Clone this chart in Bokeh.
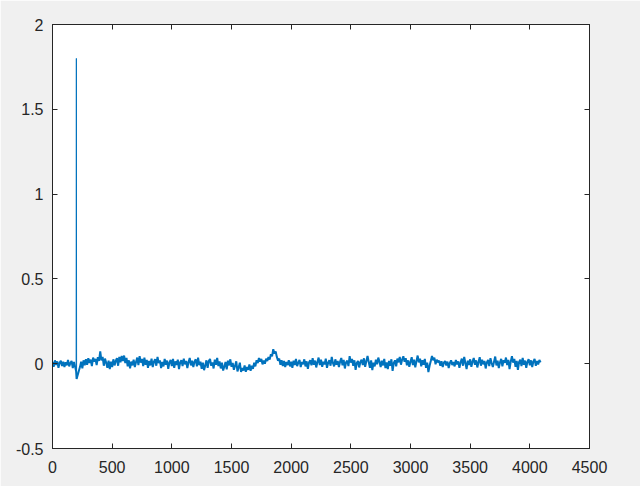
from bokeh.plotting import figure
from bokeh.models import Range1d, LinearAxis, FixedTicker, CustomJSTickFormatter
from bokeh.embed import file_html
from bokeh.resources import INLINE

# sample positions of the read-off values: every 10 samples, denser at the spike
sample_index = list(range(0, 200, 10)) + [198, 200, 202] + list(range(210, 4100, 10))

signal = [
    0.010, -0.018, 0.020, -0.008, 0.014, -0.024, 0.006, 0.018, -0.014, 0.012, -0.020, 0.008, -0.010, 0.022, -0.016, 0.004, 0.016, -0.026, 0.010, -0.020,
    -0.045, 1.800, -0.090,
    -0.070, -0.045, -0.020, 0.012, -0.028, 0.020, -0.010, 0.026, -0.006, 0.032, 0.004, 0.024, -0.014, 0.036, 0.012, 0.028, -0.008, 0.038, 0.016,
    0.072, 0.020, 0.040, -0.012, 0.030, 0.006, -0.024, 0.018, -0.032, 0.012, -0.020, 0.026, -0.010, 0.016, 0.032, -0.012, 0.040, 0.008, 0.046, 0.016,
    0.048, 0.004, 0.034, -0.016, 0.020, -0.028, 0.012, -0.010, 0.024, -0.020, 0.010, 0.036, -0.008, 0.044, 0.006, 0.028, -0.014, 0.036, -0.006, 0.022,
    -0.024, 0.016, -0.010, 0.030, -0.020, 0.012, 0.026, -0.012, 0.040, 0.004, 0.020, -0.026, 0.010, -0.016, 0.028, -0.006, 0.018, -0.030, 0.008, 0.022,
    -0.014, 0.028, -0.024, 0.014, -0.008, 0.024, -0.032, 0.008, 0.020, -0.014, 0.030, -0.004, 0.016, -0.026, 0.010, 0.034, -0.010, 0.018, -0.020, 0.012,
    0.026, -0.016, 0.036, -0.008, 0.012, -0.030, 0.006, -0.038, -0.010, 0.020, -0.024, 0.016, 0.028, -0.012, 0.008, -0.028, 0.024, -0.006, 0.034, -0.014,
    0.014, -0.028, 0.006, -0.040, -0.018, 0.010, -0.034, 0.018, -0.010, 0.026, -0.018, 0.004, -0.036, -0.012, 0.014, -0.046, -0.022, 0.006, -0.048, -0.026,
    -0.040, -0.010, -0.048, -0.020, -0.036, -0.004, -0.042, -0.012, -0.030, 0.006, -0.016, 0.020, 0.004, 0.034, 0.012, 0.028, -0.004, 0.018, 0.000, 0.030,
    0.016, 0.040, 0.024, 0.056, 0.044, 0.085, 0.060, 0.072, 0.040, 0.018, 0.030, -0.006, 0.020, -0.014, 0.016, -0.020, 0.010, -0.008, 0.020, -0.016,
    0.012, -0.024, 0.018, -0.008, 0.028, -0.014, 0.006, 0.022, -0.020, 0.010, -0.004, 0.026, -0.016, 0.014, -0.030, 0.008, 0.020, -0.010, 0.032, -0.006,
    0.018, -0.022, 0.010, 0.036, -0.008, 0.024, -0.018, 0.012, -0.004, 0.030, -0.024, 0.006, 0.020, -0.012, 0.040, 0.004, -0.016, 0.026, -0.006, 0.016,
    -0.020, 0.012, 0.034, -0.010, 0.022, -0.028, 0.008, 0.018, -0.014, 0.044, 0.006, 0.028, -0.012, 0.020, -0.036, 0.004, 0.016, -0.022, 0.010, 0.024,
    -0.008, 0.032, -0.018, 0.014, 0.046, 0.010, -0.024, 0.020, -0.038, 0.006, -0.016, 0.024, -0.004, 0.036, 0.012, -0.020, 0.018, -0.010, 0.028, -0.026,
    0.008, -0.032, 0.016, -0.012, 0.026, -0.042, 0.004, 0.020, -0.016, 0.030, 0.008, 0.040, -0.006, 0.024, 0.044, 0.012, 0.032, -0.010, 0.020, -0.018,
    0.012, 0.038, -0.008, 0.024, -0.022, 0.014, 0.048, 0.008, 0.030, -0.016, 0.020, -0.006, 0.028, -0.024, 0.006, -0.050, -0.012, 0.016, 0.046, 0.020,
    0.036, -0.004, 0.024, 0.008, 0.018, -0.012, 0.014, -0.020, 0.006, 0.016, -0.010, 0.012, -0.026, 0.004, 0.020, -0.008, 0.010, -0.016, 0.022, -0.004,
    0.014, -0.024, 0.008, 0.030, -0.012, 0.040, 0.004, -0.032, 0.018, -0.008, 0.026, -0.018, 0.012, 0.034, -0.006, 0.020, -0.022, 0.010, 0.038, -0.012,
    0.024, -0.004, 0.016, -0.028, 0.008, 0.022, -0.014, 0.032, 0.004, -0.020, 0.012, 0.042, -0.010, 0.018, -0.026, 0.008, 0.028, -0.016, 0.020, 0.006,
    0.036, -0.008, 0.022, -0.032, 0.012, 0.044, 0.006, 0.028, -0.018, 0.016, -0.036, 0.010, 0.024, -0.014, 0.034, -0.006, 0.018, -0.024, 0.012, 0.026,
    -0.010, 0.020, -0.020, 0.014, 0.028, -0.012, 0.016, -0.004, 0.022, 0.008,
]

x_ticks = [0, 500, 1000, 1500, 2000, 2500, 3000, 3500, 4000, 4500]
y_ticks = [-0.5, 0, 0.5, 1, 1.5, 2]

AXIS_COLOR = "#262626"
LINE_COLOR = "#0072BD"
FONT = "Liberation Sans"

p = figure(
    output_backend="svg", toolbar_location=None,
    width=640, height=486,
    frame_width=537, frame_height=424,
    min_border_left=52, min_border_right=51, min_border_top=24, min_border_bottom=38,
    x_range=Range1d(0, 4500), y_range=Range1d(-0.5, 2),
    background_fill_color="white", border_fill_color="#f0f0f0",
    outline_line_color=AXIS_COLOR,
)
p.grid.visible = False

# the single-sample spike is drawn thin, the dense noisy trace thicker
peak = signal.index(max(signal))
body_x = sample_index[:peak] + sample_index[peak + 1:]
body_y = signal[:peak] + signal[peak + 1:]
p.line(body_x, body_y, line_color=LINE_COLOR, line_width=2)
p.line(sample_index[peak - 1:peak + 2], signal[peak - 1:peak + 2],
       line_color=LINE_COLOR, line_width=1)

fmt = CustomJSTickFormatter(code="return String(tick);")
blank = CustomJSTickFormatter(code="return '';")

def style(ax, ticks, show_labels, standoff):
    ax.ticker = FixedTicker(ticks=ticks)
    ax.formatter = fmt if show_labels else blank
    ax.axis_line_color = AXIS_COLOR
    ax.major_tick_line_color = AXIS_COLOR
    ax.major_tick_in = 5
    ax.major_tick_out = 0
    ax.minor_tick_line_color = None
    ax.major_label_text_font = FONT
    ax.major_label_text_font_size = "16px"
    ax.major_label_text_color = AXIS_COLOR
    ax.major_label_standoff = standoff

style(p.xaxis[0], x_ticks, True, 12)
style(p.yaxis[0], y_ticks, True, 9)

top = LinearAxis()
style(top, x_ticks, False, 0)
p.add_layout(top, "above")
right = LinearAxis()
style(right, y_ticks, False, 0)
p.add_layout(right, "right")

open("out.html", "w").write(file_html(p, INLINE))
